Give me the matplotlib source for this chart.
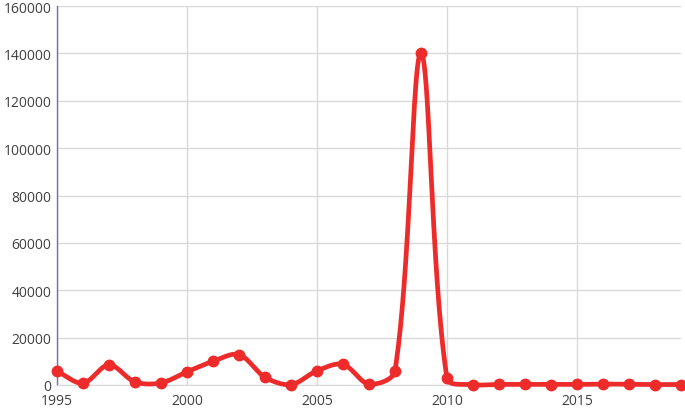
import matplotlib.pyplot as plt
import numpy as np

years = list(range(1995, 2020))
values = [5800, 800, 8500, 1300, 900, 5600, 10000, 12800, 3300, 200,
          6000, 8700, 400, 6000, 140000, 2800, 150, 250, 250, 200,
          250, 400, 300, 200, 200]


def smooth(x, y, sx, sy, n=40):
    # chord-weighted bezier smoothing, computed in screen-like units
    p = np.column_stack([np.asarray(x, float) * sx, np.asarray(y, float) * sy])
    m = len(p)
    d = np.linalg.norm(np.diff(p, axis=0), axis=1)
    t = np.linspace(0, 1, n)
    out = []
    for i in range(m - 1):
        p0, p3 = p[i], p[i + 1]
        if i > 0:
            c1 = p0 + (p[i + 1] - p[i - 1]) * d[i] / (d[i - 1] + d[i]) / 3
        else:
            c1 = p0 + (p3 - p0) / 3
        if i + 2 < m:
            c2 = p3 - (p[i + 2] - p[i]) * d[i] / (d[i] + d[i + 1]) / 3
        else:
            c2 = p3 - (p3 - p0) / 3
        b = ((1 - t) ** 3)[:, None] * p0 + (3 * (1 - t) ** 2 * t)[:, None] * c1 \
            + (3 * (1 - t) * t ** 2)[:, None] * c2 + (t ** 3)[:, None] * p3
        out.append(b)
    out = np.vstack(out)
    return out[:, 0] / sx, out[:, 1] / sy


plt.rcParams["font.family"] = ["Open Sans", "DejaVu Sans"]

fig = plt.figure(figsize=(6.85, 4.14), dpi=100)
ax = fig.add_axes([57 / 685, 1 - 386 / 414, (681 - 57) / 685, (386 - 7) / 414])

cx, cy = smooth(years, values, 26.0, 379 / 160000)
red = "#EE2B2B"
ax.plot(cx, cy, color=red, lw=3.4, solid_capstyle="round", zorder=3, clip_on=False)
ax.plot(years, values, "o", color=red, ms=7.5, zorder=4, clip_on=False)

ax.set_xlim(1995, 2019)
ax.set_ylim(0, 160000)
ax.set_xticks([1995, 2000, 2005, 2010, 2015])
ax.set_yticks(range(0, 160001, 20000))
ax.grid(True, color="#D9D9D9", lw=1)
ax.set_axisbelow(True)
for s in ["top", "right"]:
    ax.spines[s].set_visible(False)
ax.spines["bottom"].set_color("#D9D9D9")
ax.spines["left"].set_color("#7B68B8")
ax.spines["left"].set_linewidth(1)
ax.tick_params(length=0, labelsize=10, colors="#404040", pad=6)
ax.tick_params(axis="y", pad=4)

plt.savefig("out.png", dpi=100)
